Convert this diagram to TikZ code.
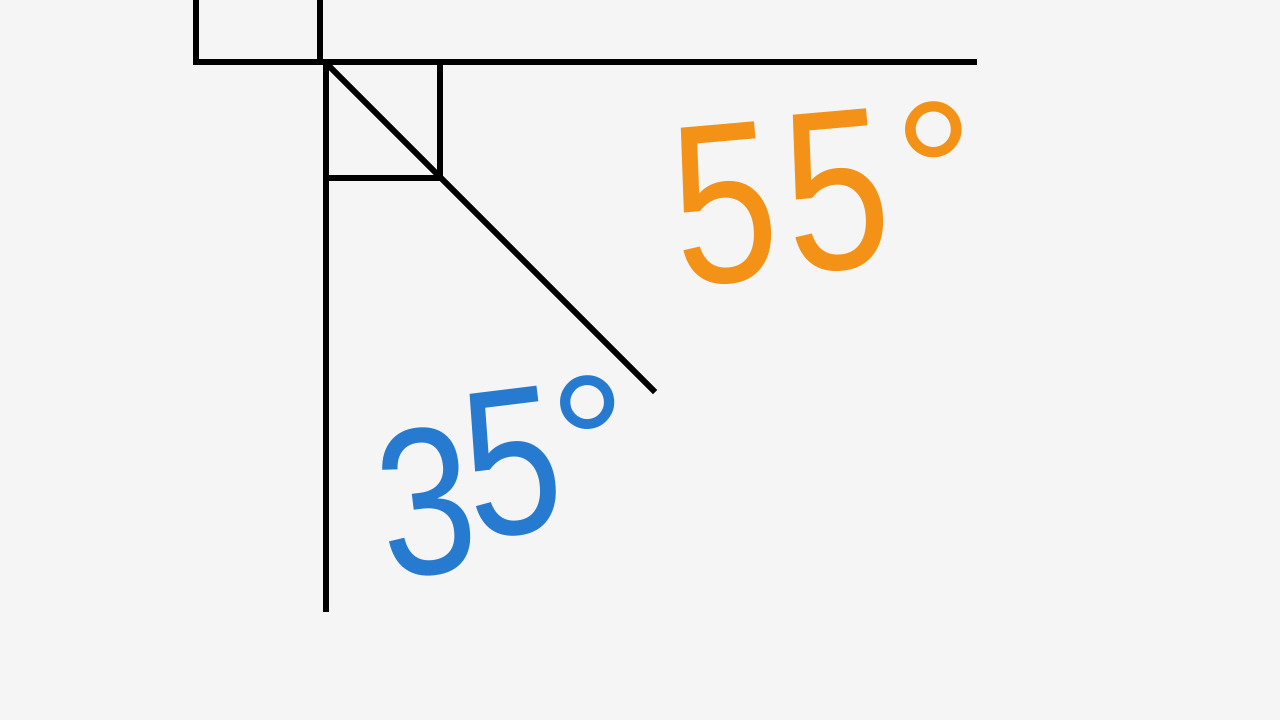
\documentclass[tikz,border=0pt]{standalone}
\usepackage{fontspec}
\setmainfont{Liberation Sans}
\definecolor{bgc}{RGB}{245,245,245}
\definecolor{orangec}{RGB}{243,146,22}
\definecolor{bluec}{RGB}{38,122,208}
\begin{document}
\begin{tikzpicture}[x=1pt,y=-1pt,
  ln/.style={line width=6pt,black},
  orangebase/.style={text=orangec,inner sep=0pt,font=\fontsize{229}{229}\selectfont,rotate=5},
  bluebase/.style={text=bluec,inner sep=0pt,font=\fontsize{210}{210}\selectfont,rotate=7},
  orangetxt/.style={orangebase,xscale=0.82},
  bluetxt/.style={bluebase,xscale=0.82}]
\fill[bgc] (0,0) rectangle (1280,720);
\useasboundingbox (0,0) rectangle (1280,720);
% points
\coordinate (tl) at (196,0);
\coordinate (tm) at (320,0);
\coordinate (hl) at (196,62);
\coordinate (hm) at (320,62);
\coordinate (hr) at (977,62);
\coordinate (c) at (326,62);
\coordinate (vb) at (326,612);
\coordinate (sqt) at (440,62);
\coordinate (sqbr) at (440,178);
\coordinate (sqbl) at (326,178);
\coordinate (dstart) at (326,63);
\coordinate (dend) at (655,392);
% lines
\draw[ln] (tl) -- (hl) -- (hr);
\draw[ln] (tm) -- (hm);
\draw[ln] (c) -- (vb);
\draw[ln] (sqt) -- (sqbr) -- (sqbl);
\draw[ln] (dstart) -- (dend);
% labels
\node[orangetxt] (o1) at (725,205) {5};
\node[orangetxt] (o2) at (837,192) {5};
\node[orangebase,anchor=north,scale=0.88] (o3) at (931,102) {°};
\node[bluetxt] (b1) at (426,502) {3};
\node[bluetxt] (b2) at (512,463) {5};
\node[bluebase,anchor=north,scale=0.92] (b3) at (584,376) {°};
\end{tikzpicture}
\end{document}
